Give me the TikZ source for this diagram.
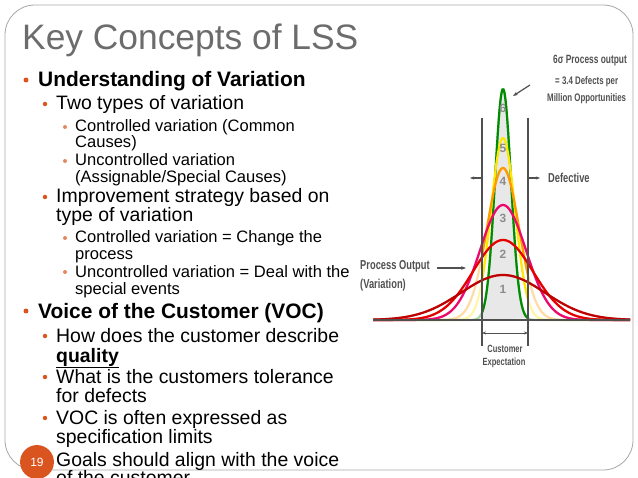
\documentclass[tikz,border=0pt]{standalone}
\usepackage{fontspec}
\usepackage{graphicx}
\setmainfont{Liberation Sans}
\usetikzlibrary{arrows.meta}
\definecolor{bul}{HTML}{D9541E}
\definecolor{figtxt}{HTML}{505050}
\newcommand{\nar}[1]{\scalebox{0.72}[1]{#1}}
\tikzset{
  lone/.style={anchor=base west,font=\fontsize{21}{21}\selectfont\bfseries},
  ltwo/.style={anchor=base west,font=\fontsize{19.5}{19.5}\selectfont},
  lthree/.style={anchor=base west,font=\fontsize{16.6}{16.6}\selectfont},
  dot/.style={circle,fill=bul,inner sep=0pt},
  ftxt/.style={text=figtxt,font=\fontsize{13}{13}\selectfont\bfseries,inner sep=0pt},
  fnum/.style={text=gray!90,font=\fontsize{12}{12}\selectfont\bfseries},
  curve/.style={line width=2.2pt,smooth}
}
\begin{document}
\begin{tikzpicture}[x=1bp,y=-1bp]
\useasboundingbox (0,0) rectangle (638,478);
\clip (0,0) rectangle (638,478);
\draw[gray!70,line width=0.8pt,rounded corners=30] (5,5) rectangle (633,470);
\node[anchor=base west,text=gray!85!black,font=\fontsize{35.5}{35.5}\selectfont,inner sep=0pt] (title) at (22,50) {Key Concepts of LSS};
% level 1
\foreach \y/\t [count=\i] in {87/Understanding of Variation,318/Voice of the Customer (VOC)}{
  \node[dot,minimum size=5pt] (b1\i) at (26,\y-7) {};
  \node[lone,inner sep=0pt] (t1\i) at (38,\y) {\t};}
% level 2
\foreach \y/\t [count=\i] in {110/Two types of variation,203/Improvement strategy based on,222/type of variation,342/How does the customer describe,383/What is the customers tolerance,402/for defects,424/VOC is often expressed as,443/specification limits,466/Goals should align with the voice,484/of the customer}{
  \node[ltwo,inner sep=0pt] (t2\i) at (56,\y) {\t};}
\foreach \y [count=\i] in {110,203,342,383,424,466}{\node[dot,minimum size=4.5pt] (b2\i) at (45,\y-6) {};}
\node[ltwo,inner sep=0pt,font=\fontsize{19.5}{19.5}\selectfont\bfseries] (q) at (56,362) {\underline{quality}};
% level 3
\foreach \y/\t [count=\i] in {132/Controlled variation (Common,148/Causes),166/Uncontrolled variation,183/{(Assignable/Special Causes)},243/Controlled variation = Change the,259/process,277/Uncontrolled variation = Deal with the,294/special events}{
  \node[lthree,inner sep=0pt] (t3\i) at (75,\y) {\t};}
\foreach \y [count=\i] in {132,166,243,277}{\node[dot,minimum size=4pt,fill=bul!70] (b3\i) at (65,\y-5) {};}
% page number
\node[circle,fill=bul,minimum size=34pt,inner sep=0pt,text=white,font=\fontsize{12}{12}\selectfont] (pg) at (37,462) {19};
% figure
\fill[gray!18] (482,320) -- plot[domain=482:528,samples=40] (\x,{320-231*exp(-0.5*((\x-503)/8)^2)}) -- cycle;
\foreach \h/\s/\c in {231/8/green!55!black,182/12/yellow!90!orange,152/16/orange!80!yellow,115/23/magenta!70!red,80/30/red!90!black,45/42/red!75!black}{
  \draw[curve,color=\c,opacity=0.35] plot[domain=373:630,samples=150] (\x,{320-\h*exp(-0.5*((\x-503)/\s)^2)});
}
\begin{scope}
\clip (482,0) rectangle (528,320);
\foreach \h/\s/\c in {231/8/green!55!black,182/12/yellow!90!orange,152/16/orange!80!yellow}{
  \draw[curve,color=\c] plot[domain=440:566,samples=120] (\x,{320-\h*exp(-0.5*((\x-503)/\s)^2)});}
\end{scope}
\foreach \h/\s/\c in {115/23/magenta!70!red,80/30/red!90!black,45/42/red!75!black}{
  \draw[curve,color=\c] plot[domain=373:630,samples=150] (\x,{320-\h*exp(-0.5*((\x-503)/\s)^2)});}
\coordinate (axl) at (373,320); \coordinate (axr) at (630,320);
\draw[figtxt,line width=2pt] (axl) -- (axr);
\coordinate (lt) at (482,118); \coordinate (lb) at (482,346);
\coordinate (rt) at (528,118); \coordinate (rb) at (528,346);
\draw[figtxt,line width=1.2pt] (lt) -- (lb); \draw[figtxt,line width=1.2pt] (rt) -- (rb);
\foreach \y/\n in {108/6,148/5,181/4,218/3,254/2,289/1}{\node[fnum] at (503,\y) {\n};}
\node[ftxt,anchor=west,font=\fontsize{12}{12}\selectfont\bfseries] (six) at (553,61) {\scalebox{0.7}[1]{6σ Process output}};
\node[ftxt,anchor=west,font=\fontsize{11}{11}\selectfont\bfseries] (dpm) at (555,82) {\nar{= 3.4 Defects per}};
\node[ftxt,anchor=west,font=\fontsize{11}{11}\selectfont\bfseries] (mo) at (547,99) {\nar{Million Opportunities}};
\coordinate (pk) at (513,96);
\draw[figtxt,line width=1.2pt,-{Stealth[length=5pt]}] (530,85) -- (pk);
\node[ftxt,anchor=west] (def) at (548,178) {\nar{Defective}};
\draw[figtxt,line width=1.2pt,-{Stealth[length=4pt]}] (lt|-def) -- ++(-12,0);
\draw[figtxt,line width=1.2pt,-{Stealth[length=4pt]}] (rt|-def) -- ++(12,0);
\node[ftxt,anchor=west] (po) at (360,266) {\nar{Process Output}};
\node[ftxt,anchor=west] (var) at (360,285) {\nar{(Variation)}};
\draw[figtxt,line width=1.2pt,-{Stealth[length=5pt]}] (437,268) -- (466,268);
\draw[figtxt,line width=1pt,{Stealth[length=4pt]}-{Stealth[length=4pt]}] (482,333) -- (528,333);
\node[ftxt,font=\fontsize{10.5}{10.5}\selectfont\bfseries] (ce) at (505,349) {\nar{Customer}};
\node[ftxt,font=\fontsize{10.5}{10.5}\selectfont\bfseries] (ce2) at (504,363) {\nar{Expectation}};
\end{tikzpicture}
\end{document}
